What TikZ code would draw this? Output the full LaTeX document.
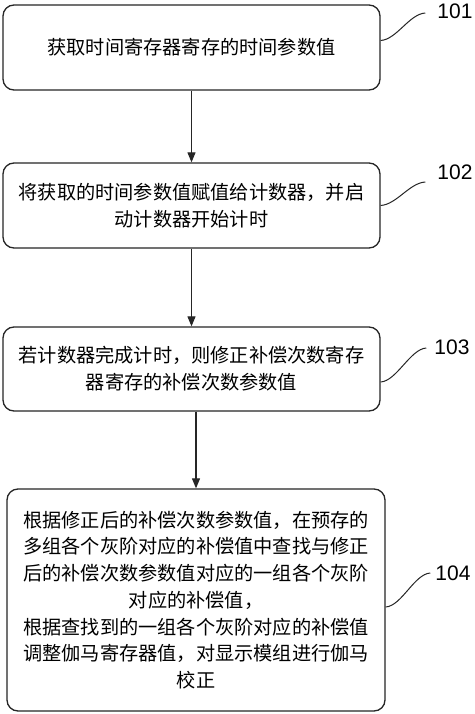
\documentclass[tikz,border=0pt]{standalone}
\usepackage{fontspec}
\newfontfamily\cjk{Noto Sans CJK SC}
\newfontfamily\lab{Liberation Sans}
\usetikzlibrary{arrows.meta}
\tikzset{
  stepbox/.style={draw=black!85, line width=1.3pt, rounded corners=11pt, align=center,
    inner sep=0pt, font=\cjk\fontsize{19.2}{26.7}\selectfont},
  arr/.style={line width=1.1pt, draw=black!85, -{Triangle[length=10pt,width=8pt]}},
  lead/.style={line width=1pt, draw=black!85},
  labtxt/.style={font=\lab\fontsize{21}{24}\selectfont, inner sep=0pt}
}
\begin{document}
\begin{tikzpicture}[x=1pt,y=-1pt]
\useasboundingbox (0,0) rectangle (474,714);
\fill[white] (0,0) rectangle (474,714);
\node[stepbox, minimum width=377, minimum height=85] (b1) at (191.5,47.5) {获取时间寄存器寄存的时间参数值};
\node[stepbox, minimum width=377, minimum height=85] (b2) at (191.5,205.5) {将获取的时间参数值赋值给计数器，并启\\动计数器开始计时};
\node[stepbox, minimum width=377, minimum height=84] (b3) at (191.5,369) {若计数器完成计时，则修正补偿次数寄存\\器寄存的补偿次数参数值};
\node[stepbox, minimum width=378, minimum height=222] (b4) at (196,600) {根据修正后的补偿次数参数值，在预存的\\多组各个灰阶对应的补偿值中查找与修正\\后的补偿次数参数值对应的一组各个灰阶\\对应的补偿值，\\根据查找到的一组各个灰阶对应的补偿值\\调整伽马寄存器值，对显示模组进行伽马\\校正};
\draw[arr] (b1.south) -- (b2.north);
\draw[arr] (b2.south) -- (b3.north);
\draw[arr] (b4.north |- b3.south) -- (b4.north);
\node[labtxt] (l1) at (455,11) {101};
\node[labtxt] (l2) at (455,172) {102};
\node[labtxt] (l3) at (452,347) {103};
\node[labtxt] (l4) at (453,573) {104};
\coordinate (e1) at ([xshift=-12pt,yshift=-2pt]l1.west);
\coordinate (e2) at ([xshift=-12pt,yshift=-10pt]l2.west);
\coordinate (e3) at ([xshift=-8pt,yshift=-1pt]l3.west);
\coordinate (e4) at ([xshift=-5pt]l4.west);
\coordinate (s1) at ([yshift=7pt]b1.east);
\coordinate (s2) at (b2.east);
\coordinate (s3) at ([yshift=-13pt]b3.east);
\coordinate (s4) at ([yshift=-7pt]b4.east);
\draw[lead] (s1) .. controls +(16,-1) and +(-16,1) .. (e1);
\draw[lead] (s2) .. controls +(16,-1) and +(-16,1) .. (e2);
\draw[lead] (s3) .. controls +(16,-1) and +(-16,1) .. (e3);
\draw[lead] (s4) .. controls +(16,-1) and +(-16,1) .. (e4);
\end{tikzpicture}
\end{document}
